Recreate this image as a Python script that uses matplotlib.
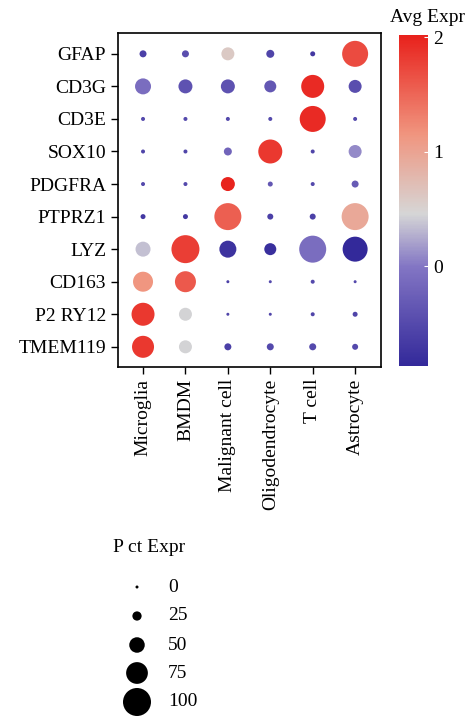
import numpy as np
import matplotlib
matplotlib.use("Agg")
import matplotlib.pyplot as plt
from matplotlib.colors import LinearSegmentedColormap

plt.rcParams['font.family'] = ['Liberation Serif', 'DejaVu Serif']

genes = ["GFAP", "CD3G", "CD3E", "SOX10", "PDGFRA", "PTPRZ1", "LYZ", "CD163", "P2 RY12", "TMEM119"]
cells = ["Microglia", "BMDM", "Malignant cell", "Oligodendrocyte", "T cell", "Astrocyte"]
avg = {
    "GFAP":    [-0.6, -0.45, 0.6, -0.55, -0.7, 1.7],
    "CD3G":    [-0.1, -0.4, -0.4, -0.35, 1.95, -0.45],
    "CD3E":    [-0.5, -0.5, -0.5, -0.5, 1.95, -0.5],
    "SOX10":   [-0.55, -0.55, -0.2, 1.85, -0.55, 0.1],
    "PDGFRA":  [-0.5, -0.5, 2.0, -0.35, -0.5, -0.3],
    "PTPRZ1":  [-0.7, -0.7, 1.55, -0.6, -0.6, 0.95],
    "LYZ":     [0.35, 1.8, -0.75, -0.8, -0.1, -0.9],
    "CD163":   [1.15, 1.6, -0.6, -0.5, -0.5, -0.5],
    "P2 RY12": [1.85, 0.45, -0.55, -0.55, -0.55, -0.55],
    "TMEM119": [1.85, 0.45, -0.6, -0.5, -0.5, -0.5],
}
pct = {
    "GFAP":    [16, 16, 40, 20, 8, 92],
    "CD3G":    [52, 44, 44, 36, 80, 40],
    "CD3E":    [4, 4, 4, 4, 92, 4],
    "SOX10":   [4, 4, 20, 84, 4, 40],
    "PDGFRA":  [4, 4, 44, 8, 4, 16],
    "PTPRZ1":  [8, 8, 96, 12, 12, 96],
    "LYZ":     [48, 100, 56, 36, 96, 88],
    "CD163":   [68, 72, 0, 0, 4, 0],
    "P2 RY12": [80, 40, 0, 0, 4, 8],
    "TMEM119": [76, 40, 16, 16, 16, 12],
}
legend_pcts = [0, 25, 50, 75, 100]

vmin, vmax = -0.87, 2.02
cmap = LinearSegmentedColormap.from_list("ae", [
    (0.0, "#33299a"), (0.3, "#8376c4"), (0.46, "#d6d6d6"),
    (0.7, "#f0957f"), (1.0, "#e8211c")])

def size(p):
    d_px = 3 + 0.25 * np.asarray(p, float)
    return (d_px * 0.72) ** 2

FS = 14
W, H = 474, 726
fig = plt.figure(figsize=(W/100, H/100), dpi=100)
ax = fig.add_axes([118/W, 1-367/H, 263/W, 334/H])
xs, ys, cs, ss = [], [], [], []
for gi, g in enumerate(genes):
    for ci in range(len(cells)):
        xs.append(ci); ys.append(len(genes)-1-gi)
        cs.append(avg[g][ci]); ss.append(size(pct[g][ci]))
sc = ax.scatter(xs, ys, c=cs, s=ss, cmap=cmap, vmin=vmin, vmax=vmax, linewidths=0)
ax.set_xlim(-0.59, 5.61)
ax.set_ylim(-0.62, 9.64)
ax.set_xticks(range(len(cells)))
ax.set_xticklabels(cells, rotation=90, fontsize=FS)
ax.set_yticks(range(len(genes)))
ax.set_yticklabels(genes[::-1], fontsize=FS)
ax.tick_params(length=5, width=1, colors="black")
for s in ax.spines.values():
    s.set_linewidth(1.2)

cax = fig.add_axes([399/W, 1-366/H, 29/W, 331/H])
cb = fig.colorbar(sc, cax=cax)
cb.set_ticks([0, 1, 2])
cb.ax.tick_params(labelsize=FS, length=3, color="white", direction="in")
cb.outline.set_visible(False)
fig.text(390/W, 1-18/H, "Avg Expr", fontsize=FS, va="center", ha="left")

lax = fig.add_axes([0, 0, 1, 1], facecolor="none")
lax.set_xlim(0, W); lax.set_ylim(H, 0); lax.axis("off")
lax.text(113, 548, "P ct Expr", fontsize=FS, va="center")
ly = [587, 616, 645, 673, 702]
lax.scatter([137]*5, ly, s=[size(p) for p in legend_pcts], c="black", linewidths=0)
for y, p in zip(ly, legend_pcts):
    lax.text(168, y, str(p), fontsize=FS, va="center")

fig.savefig("out.png", dpi=100)
